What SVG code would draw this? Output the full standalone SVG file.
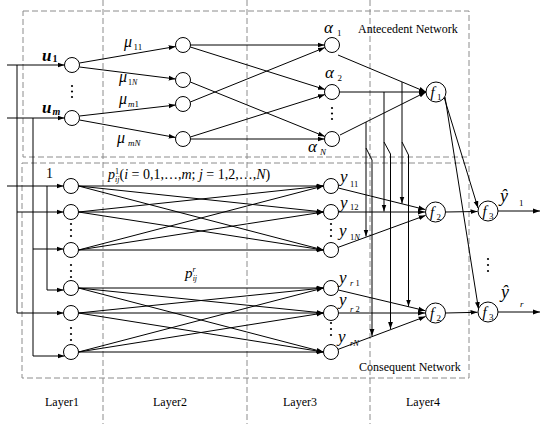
<svg xmlns="http://www.w3.org/2000/svg" width="550" height="426" viewBox="0 0 550 426">
<style>
.n{fill:#fff;stroke:#000;stroke-width:1}
.c path,.c line{fill:none;stroke:#000;stroke-width:1}
.d{fill:none;stroke:#8c8c8c;stroke-width:1;stroke-dasharray:6,3}
text{font-family:"Liberation Serif","Times New Roman",serif;fill:#000}
.i{font-style:italic}
.bi{font-style:italic;font-weight:bold}
.s{font-size:9px}
.dot{fill:#000}
</style>
<defs>
<marker id="ar" markerWidth="8" markerHeight="6" refX="7" refY="3" orient="auto" markerUnits="userSpaceOnUse"><path d="M0,0.6 L7,3 L0,5.4 z" fill="#000"/></marker>
</defs>
<rect width="550" height="426" fill="#fff"/>
<g id="frames">
<rect class="d" x="23" y="11" width="446" height="146"/>
<rect class="d" x="22" y="163" width="447" height="215"/>
<line class="d" x1="103" y1="0" x2="103" y2="424"/>
<line class="d" x1="247" y1="0" x2="247" y2="424"/>
<line class="d" x1="370" y1="0" x2="370" y2="424"/>
<text x="358" y="33" font-size="12">Antecedent Network</text>
<text x="359" y="371" font-size="12">Consequent Network</text>
<text x="62" y="406" font-size="12" text-anchor="middle">Layer1</text>
<text x="170" y="406" font-size="12" text-anchor="middle">Layer2</text>
<text x="300" y="406" font-size="12" text-anchor="middle">Layer3</text>
<text x="423" y="406" font-size="12" text-anchor="middle">Layer4</text>
</g>
<g id="connectors" class="c">
<path d="M7,65 H64.5" marker-end="url(#ar)"/>
<path d="M7,118 H64.5" marker-end="url(#ar)"/>
<path d="M17,65 V313 H63.5" marker-end="url(#ar)"/>
<path d="M17,212 H63.5" marker-end="url(#ar)"/>
<path d="M33,118 V356 H64.5" marker-end="url(#ar)"/>
<path d="M33,249 H63.5" marker-end="url(#ar)"/>
<path d="M7,186 H63.5" marker-end="url(#ar)"/>
<path d="M47,186 V290 H63.8" marker-end="url(#ar)"/>
<path d="M79.5,63 L175.7,46.5" marker-end="url(#ar)"/>
<path d="M79.5,67 L175.7,79" marker-end="url(#ar)"/>
<path d="M79.5,116 L175.7,105" marker-end="url(#ar)"/>
<path d="M79.5,120 L175.7,137.5" marker-end="url(#ar)"/>
<path d="M190.5,45 L324.5,45" marker-end="url(#ar)"/>
<path d="M190.3,47 L325,89.5" marker-end="url(#ar)"/>
<path d="M190.3,102 L325,47.5" marker-end="url(#ar)"/>
<path d="M190.3,82 L325,136.5" marker-end="url(#ar)"/>
<path d="M190.3,137 L325,94.5" marker-end="url(#ar)"/>
<path d="M190.5,139 L324.5,139" marker-end="url(#ar)"/>
<path d="M338,55 L426,92" marker-end="url(#ar)"/>
<path d="M339.5,92 L426,92" marker-end="url(#ar)"/>
<path d="M340,135 L426,92" marker-end="url(#ar)"/>
<path d="M78.5,186 L323.5,186" marker-end="url(#ar)"/>
<path d="M78.5,186 L323.5,212" marker-end="url(#ar)"/>
<path d="M78.5,186 L323.5,250" marker-end="url(#ar)"/>
<path d="M78.5,212 L323.5,186" marker-end="url(#ar)"/>
<path d="M78.5,212 L323.5,212" marker-end="url(#ar)"/>
<path d="M78.5,212 L323.5,250" marker-end="url(#ar)"/>
<path d="M78.5,250 L323.5,186" marker-end="url(#ar)"/>
<path d="M78.5,250 L323.5,212" marker-end="url(#ar)"/>
<path d="M78.5,250 L323.5,250" marker-end="url(#ar)"/>
<path d="M78.5,288 L323.5,288" marker-end="url(#ar)"/>
<path d="M78.5,288 L323.5,313" marker-end="url(#ar)"/>
<path d="M78.5,288 L323.5,352" marker-end="url(#ar)"/>
<path d="M78.5,313 L323.5,288" marker-end="url(#ar)"/>
<path d="M78.5,313 L323.5,313" marker-end="url(#ar)"/>
<path d="M78.5,313 L323.5,352" marker-end="url(#ar)"/>
<path d="M78.5,352 L323.5,288" marker-end="url(#ar)"/>
<path d="M78.5,352 L323.5,313" marker-end="url(#ar)"/>
<path d="M78.5,352 L323.5,352" marker-end="url(#ar)"/>
<path d="M338.3,188 L425.3,209.6" marker-end="url(#ar)"/>
<path d="M338.5,212 L425,212" marker-end="url(#ar)"/>
<path d="M338,247.4 L425.6,215.4" marker-end="url(#ar)"/>
<path d="M338.3,290 L425.3,310.7" marker-end="url(#ar)"/>
<path d="M338.5,313 L425,313" marker-end="url(#ar)"/>
<path d="M338,349.4 L425.6,316.5" marker-end="url(#ar)"/>
<path d="M402,82 V203.5" marker-end="url(#ar)"/>
<path d="M402,142 L408.5,155 V306.5" marker-end="url(#ar)"/>
<path d="M384,92 V211.5" marker-end="url(#ar)"/>
<path d="M384,142 L390.5,154 V329" marker-end="url(#ar)"/>
<path d="M366,122 V236.5" marker-end="url(#ar)"/>
<path d="M366,148 L372,160 V336" marker-end="url(#ar)"/>
<path d="M444,97 L478,208" marker-end="url(#ar)"/>
<path d="M445,97 L478.5,309" marker-end="url(#ar)"/>
<path d="M445.5,212 L477.5,211.5" marker-end="url(#ar)"/>
<path d="M445.5,313 L477.5,312.3" marker-end="url(#ar)"/>
<path d="M498,211 L540,211" marker-end="url(#ar)"/>
<path d="M498,312 L540,312" marker-end="url(#ar)"/>
</g>
<g id="dots">
<circle class="dot" cx="72" cy="86" r="1.1"/><circle class="dot" cx="72" cy="91.5" r="1.1"/><circle class="dot" cx="72" cy="97" r="1.1"/>
<circle class="dot" cx="332" cy="108" r="1.1"/><circle class="dot" cx="332" cy="113.5" r="1.1"/><circle class="dot" cx="332" cy="119" r="1.1"/>
<circle class="dot" cx="71" cy="224" r="1.1"/><circle class="dot" cx="71" cy="230" r="1.1"/><circle class="dot" cx="71" cy="236" r="1.1"/>
<circle class="dot" cx="71" cy="265" r="1.1"/><circle class="dot" cx="71" cy="271" r="1.1"/><circle class="dot" cx="71" cy="277" r="1.1"/>
<circle class="dot" cx="71" cy="328" r="1.1"/><circle class="dot" cx="71" cy="334" r="1.1"/><circle class="dot" cx="71" cy="340" r="1.1"/>
<circle class="dot" cx="331" cy="224" r="1.1"/><circle class="dot" cx="331" cy="230" r="1.1"/><circle class="dot" cx="331" cy="236" r="1.1"/>
<circle class="dot" cx="331" cy="323" r="1.1"/><circle class="dot" cx="331" cy="329" r="1.1"/><circle class="dot" cx="331" cy="335" r="1.1"/>
<circle class="dot" cx="488" cy="259" r="1.1"/><circle class="dot" cx="488" cy="265" r="1.1"/><circle class="dot" cx="488" cy="271" r="1.1"/>
</g>
<g id="node-u1"><circle class="n" cx="72" cy="65" r="7.5"/><text x="42" y="61" font-size="17" class="bi">u</text><text x="52.5" y="62" font-size="10" font-weight="bold">1</text></g>
<g id="node-um"><circle class="n" cx="72" cy="118" r="7.5"/><text x="42" y="113" font-size="17" class="bi">u</text><text x="52.5" y="115" font-size="10" class="bi">m</text></g>
<g id="node-mu11"><circle class="n" cx="183" cy="45" r="7.5"/><text x="124" y="47" font-size="16" class="i">μ</text><text x="133.5" y="50" class="s">11</text></g>
<g id="node-mu1N"><circle class="n" cx="183" cy="80" r="7.5"/><text x="119" y="82" font-size="16" class="i">μ</text><text x="128" y="85" font-size="8">1<tspan class="i">N</tspan></text></g>
<g id="node-mum1"><circle class="n" cx="183" cy="104" r="7.5"/><text x="119" y="104" font-size="16" class="i">μ</text><text x="128" y="107" class="s"><tspan class="i">m</tspan>1</text></g>
<g id="node-mumN"><circle class="n" cx="183" cy="139" r="7.5"/><text x="117" y="143" font-size="16" class="i">μ</text><text x="128" y="146" class="s i">mN</text></g>
<g id="node-a1"><circle class="n" cx="332" cy="45" r="7.5"/><text x="324" y="33" font-size="17" class="i">α</text><text x="337" y="36" class="s">1</text></g>
<g id="node-a2"><circle class="n" cx="332" cy="92" r="7.5"/><text x="325" y="78" font-size="17" class="i">α</text><text x="337.5" y="81" class="s">2</text></g>
<g id="node-aN"><circle class="n" cx="332" cy="139" r="7.5"/><text x="308" y="152" font-size="17" class="i">α</text><text x="320" y="155" class="s i">N</text></g>
<g id="node-f1"><circle class="n" cx="436" cy="92" r="10"/><text x="430.5" y="97" font-size="15" class="i">f</text><text x="437" y="99.5" class="s">1</text></g>
<g id="node-b1"><circle class="n" cx="71" cy="186" r="7.5"/><text x="46" y="178" font-size="14">1</text></g>
<g id="node-b2"><circle class="n" cx="71" cy="212" r="7.5"/></g>
<g id="node-b3"><circle class="n" cx="71" cy="250" r="7.5"/></g>
<g id="node-b4"><circle class="n" cx="71" cy="288" r="7.5"/></g>
<g id="node-b5"><circle class="n" cx="71" cy="313" r="7.5"/></g>
<g id="node-b6"><circle class="n" cx="71" cy="352" r="7.5"/></g>
<g id="label-p1"><text x="108" y="179" font-size="14"><tspan class="i">p</tspan><tspan font-size="8" dy="-5">1</tspan><tspan font-size="8" class="i" dx="-4" dy="8">ij</tspan><tspan dy="-3">(</tspan><tspan class="i">i</tspan> = 0,1,…,<tspan class="i">m</tspan>; <tspan class="i">j</tspan> = 1,2,…,<tspan class="i">N</tspan>)</text></g>
<g id="label-pr"><text x="185" y="278" font-size="15"><tspan class="i">p</tspan><tspan font-size="8" class="i" dy="-6">r</tspan><tspan font-size="8" class="i" dx="-3" dy="9">ij</tspan></text></g>
<g id="node-y11"><circle class="n" cx="331" cy="186" r="7.5"/><text x="340" y="182" font-size="17" class="i">y</text><text x="350" y="187" font-size="8.5">11</text></g>
<g id="node-y12"><circle class="n" cx="331" cy="212" r="7.5"/><text x="340" y="208" font-size="17" class="i">y</text><text x="350" y="210" font-size="8.5">12</text></g>
<g id="node-y1N"><circle class="n" cx="331" cy="250" r="7.5"/><text x="339" y="236" font-size="17" class="i">y</text><text x="350" y="240" font-size="8.5">1<tspan class="i">N</tspan></text></g>
<g id="node-yr1"><circle class="n" cx="331" cy="288" r="7.5"/><text x="339" y="283" font-size="17" class="i">y</text><text x="350" y="286" font-size="8.5"><tspan class="i">r</tspan> 1</text></g>
<g id="node-yr2"><circle class="n" cx="331" cy="313" r="7.5"/><text x="339" y="305" font-size="17" class="i">y</text><text x="350" y="312" font-size="8.5"><tspan class="i">r</tspan> 2</text></g>
<g id="node-yrN"><circle class="n" cx="331" cy="352" r="7.5"/><text x="338" y="342" font-size="17" class="i">y</text><text x="350" y="346" font-size="8.5" class="i">rN</text></g>
<g id="node-f2a"><circle class="n" cx="435.5" cy="212" r="10"/><text x="430" y="217" font-size="15" class="i">f</text><text x="436.5" y="219.5" class="s">2</text></g>
<g id="node-f2b"><circle class="n" cx="435.5" cy="313" r="10"/><text x="430" y="318" font-size="15" class="i">f</text><text x="436.5" y="320.5" class="s">2</text></g>
<g id="node-f3a"><circle class="n" cx="488" cy="211" r="10"/><text x="482.5" y="216" font-size="15" class="i">f</text><text x="489" y="218.5" class="s">3</text></g>
<g id="node-f3b"><circle class="n" cx="488" cy="312" r="10"/><text x="482.5" y="317" font-size="15" class="i">f</text><text x="489" y="319.5" class="s">3</text></g>
<g id="label-yhat1"><text x="500" y="202" font-size="18" class="i">ŷ</text><text x="519" y="206" class="s">1</text></g>
<g id="label-yhatr"><text x="501" y="298" font-size="18" class="i">ŷ</text><text x="520" y="307" class="s i">r</text></g>
</svg>
